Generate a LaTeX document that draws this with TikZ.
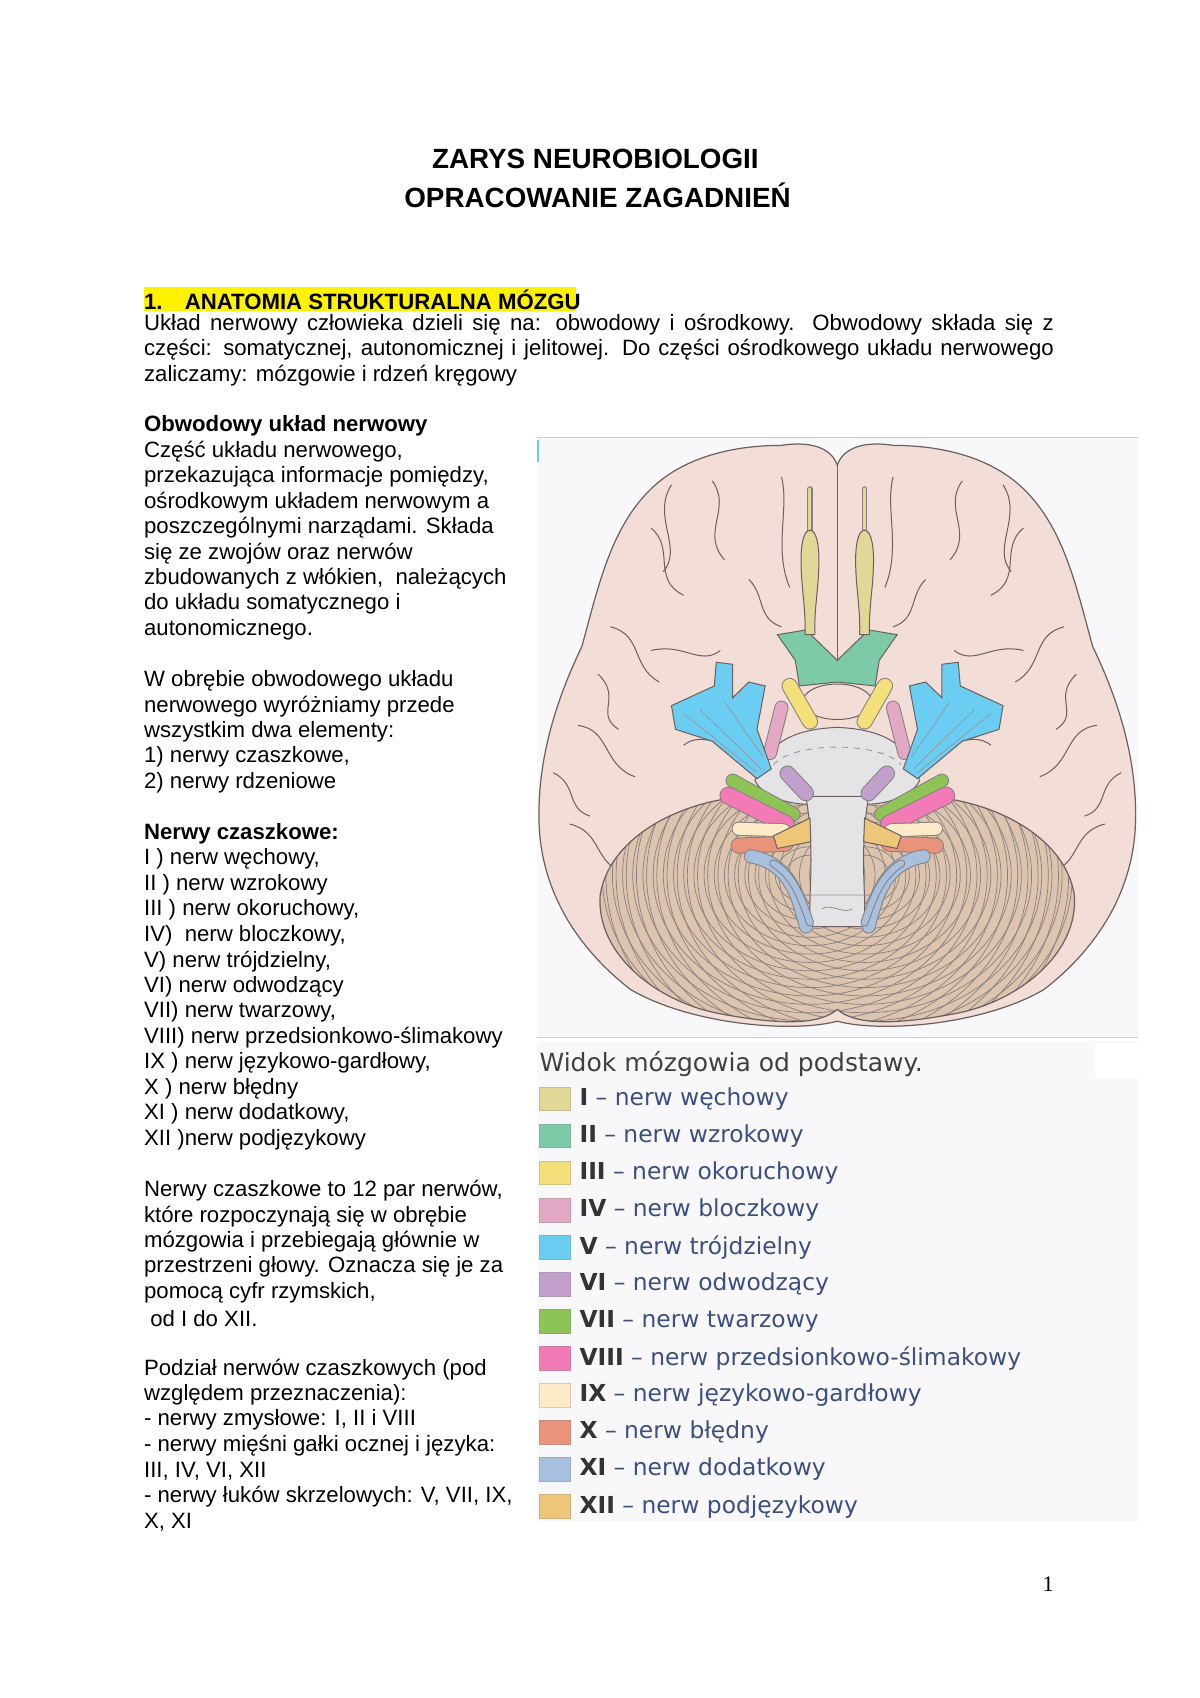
\documentclass[tikz,border=0pt]{standalone}
\usepackage{fontspec}
\setmainfont{Liberation Sans}
\newfontfamily\dejavu{DejaVu Sans}
\newfontfamily\serifnum{Liberation Serif}
\definecolor{cI}{HTML}{E0D896}\definecolor{cII}{HTML}{7CCAA8}\definecolor{cIII}{HTML}{F3E07A}
\definecolor{cIV}{HTML}{E2A8C4}\definecolor{cV}{HTML}{6CCDF2}\definecolor{cVI}{HTML}{C1A0CC}
\definecolor{cVII}{HTML}{8EC356}\definecolor{cVIII}{HTML}{F27BB6}\definecolor{cIX}{HTML}{FDEBC8}
\definecolor{cX}{HTML}{E8937A}\definecolor{cXI}{HTML}{A6C0DE}\definecolor{cXII}{HTML}{EEC67A}
\definecolor{brainpink}{HTML}{F2DDD7}\definecolor{cereb}{HTML}{DCC4AE}\definecolor{stem}{HTML}{E4E4E6}
\definecolor{outl}{HTML}{6A6060}\definecolor{legblue}{HTML}{3D4F80}\definecolor{panel}{HTML}{F8F8FA}
\newcommand\nerve[3]{\draw[line width={#2+1.0pt},line cap=round,draw=outl!80] #3; \draw[line width=#2,line cap=round,draw=#1] #3;}
\newcommand\halfbrain{%
  \draw[outl,line width=0.5pt] (450,130) .. controls (500,200) and (420,260) .. (480,330)
    (300,250) .. controls (360,300) and (300,380) .. (380,420)
    (200,500) .. controls (280,520) and (250,600) .. (320,640)
    (120,750) .. controls (200,760) and (180,850) .. (260,880)
    (620,120) .. controls (640,200) and (600,300) .. (640,400)
    (540,380) .. controls (580,420) and (560,480) .. (620,500)
    (100,1000) .. controls (180,1020) and (160,1100) .. (230,1120)
    (300,560) .. controls (380,540) and (420,600) .. (470,560)
    (350,140) .. controls (300,220) and (380,300) .. (330,360)
    (170,620) .. controls (230,680) and (160,720) .. (220,760)
    (380,800) .. controls (430,760) and (480,820) .. (520,780)
    (60,870) .. controls (120,900) and (90,960) .. (150,980);
}
\newcommand\halfnerves{%
  \nerve{cI}{1.5pt}{(690,150) -- (690,260)}
  \filldraw[fill=cI,draw=outl,line width=0.5pt] (690,255) .. controls (705,255) and (712,290) .. (712,330) .. controls (712,400) and (700,450) .. (702,520) -- (678,520) .. controls (680,450) and (668,400) .. (668,330) .. controls (668,290) and (675,255) .. (690,255) -- cycle;
  \nerve{cIII}{7pt}{(640,650) -- (690,740)}
  \nerve{cIV}{6pt}{(620,705) -- (592,820)}
  \filldraw[fill=cV,draw=outl,line width=0.5pt] (350,700) -- (455,650) -- (460,590) -- (500,595) -- (500,680) -- (540,640) -- (580,650) -- (560,760) -- (595,860) -- (560,885) -- (450,790) -- (360,760) -- cycle;
  \draw[outl!70,line width=0.3pt] (380,720) -- (560,870) (420,710) -- (570,860) (480,690) -- (575,830);
  \nerve{cVI}{7pt}{(635,872) -- (680,922)}
  \nerve{cVII}{6pt}{(500,890) -- (650,975)}
  \nerve{cVIII}{8pt}{(490,928) -- (630,1000)}
  \nerve{cIX}{6pt}{(515,1012) -- (625,1016)}
  \nerve{cX}{7pt}{(515,1055) -- (630,1050)}
  \filldraw[fill=cXII,draw=outl,line width=0.5pt] (600,1030) -- (690,985) -- (692,1045) -- (610,1062) -- cycle;
  \nerve{cXI}{6pt}{(545,1082) .. controls (640,1100) and (660,1180) .. (680,1260)}
  \nerve{cXI}{3pt}{(600,1100) .. controls (650,1130) and (670,1190) .. (690,1250)}
}
\begin{document}
\begin{tikzpicture}[x=0.536pt,y=-0.536pt,font=\fontsize{11}{12.65}\selectfont]
\useasboundingbox[fill=white] (0,0) rectangle (1110,1571.5);
\tikzset{lc/.style={anchor=west,inner sep=0pt}}
% titles
\node[font=\fontsize{13.8}{15}\selectfont\bfseries] (t1) at (551,147) {ZARYS NEUROBIOLOGII};
\node[font=\fontsize{13.8}{15}\selectfont\bfseries] (t2) at (553,181) {OPRACOWANIE ZAGADNIEŃ};
\fill[yellow] (133,266) rectangle (533,288);
\node[lc,font=\fontsize{11}{12.65}\selectfont\bfseries] (h1) at (133,277) {1.\hspace{1em}ANATOMIA STRUKTURALNA MÓZGU};
\node[lc] (p1) at (133,300) {\makebox[451.3pt][s]{Układ nerwowy człowieka dzieli się na: obwodowy i ośrodkowy. Obwodowy składa się z}};
\node[lc] (p2) at (133,324) {\makebox[451.3pt][s]{części: somatycznej, autonomicznej i jelitowej. Do części ośrodkowego układu nerwowego}};
\node[lc] (p3) at (133,348) {zaliczamy: mózgowie i rdzeń kręgowy};
% left column
\node[lc,font=\fontsize{11}{12.65}\selectfont\bfseries] (o0) at (133,394) {Obwodowy układ nerwowy};
\node[lc,font=\fontsize{11}{12.65}\selectfont\bfseries] (n0) at (133,{394+16*23.6}) {Nerwy czaszkowe:};
\foreach \k/\t in {1/{Część układu nerwowego,},2/{przekazująca informacje pomiędzy,},3/{ośrodkowym układem nerwowym a},
 4/{poszczególnymi narządami. Składa},5/{się ze zwojów oraz nerwów},6/{zbudowanych z włókien,\ \ należących},
 7/{do układu somatycznego i},8/{autonomicznego.},10/{W obrębie obwodowego układu},11/{nerwowego wyróżniamy przede},
 12/{wszystkim dwa elementy:},13/{1) nerwy czaszkowe,},14/{2) nerwy rdzeniowe},
 17/{I ) nerw węchowy,},18/{II ) nerw wzrokowy},19/{III ) nerw okoruchowy,},20/{IV)\ \ nerw bloczkowy,},
 21/{V) nerw trójdzielny,},22/{VI) nerw odwodzący},23/{VII) nerw twarzowy,},24/{VIII) nerw przedsionkowo-ślimakowy},
 25/{IX ) nerw językowo-gardłowy,},26/{X ) nerw błędny},27/{XI ) nerw dodatkowy,},28/{XII )nerw podjęzykowy},
 30/{Nerwy czaszkowe to 12 par nerwów,},31/{które rozpoczynają się w obrębie},32/{mózgowia i przebiegają głównie w},
 33/{przestrzeni głowy. Oznacza się je za},34/{pomocą cyfr rzymskich,},35/{\ od I do XII.},
 37/{Podział nerwów czaszkowych (pod},38/{względem przeznaczenia):},39/{- nerwy zmysłowe: I, II i VIII},
 40/{- nerwy mięśni gałki ocznej i języka:},41/{III, IV, VI, XII},42/{- nerwy łuków skrzelowych: V, VII, IX,},43/{X, XI}}
  \node[lc] (l\k) at (133,{394+\k*23.6}) {\t};
% image panel
\fill[panel] (497,405) rectangle (1053,960);
\draw[gray!40,line width=0.6pt] (497,405) -- (1053,405) (497,960) -- (1053,960);
\draw[cyan!60,line width=0.8pt] (498,407) -- (498,428);
\begin{scope}[shift={(489.5,397.6)},xscale=0.377,yscale=0.365]
  \filldraw[fill=brainpink,draw=outl,line width=0.6pt] (757,90) .. controls (740,40) and (680,30) .. (620,40) .. controls (500,40) and (380,70) .. (300,150) .. controls (200,250) and (170,400) .. (130,550) .. controls (60,700) and (20,850) .. (25,1000) .. controls (30,1150) and (100,1300) .. (250,1420) .. controls (400,1510) and (650,1530) .. (757,1500) .. controls (864,1530) and (1114,1510) .. (1264,1420) .. controls (1414,1300) and (1484,1150) .. (1489,1000) .. controls (1494,850) and (1454,700) .. (1384,550) .. controls (1344,400) and (1314,250) .. (1214,150) .. controls (1134,70) and (1014,40) .. (894,40) .. controls (834,30) and (774,40) .. (757,90) -- cycle;
  \draw[outl,line width=0.5pt] (757,90) -- (757,590);
  \halfbrain
  \begin{scope}[shift={(1514,0)},xscale=-1]\halfbrain\end{scope}
  % cerebellum
  \path[save path=\cerebpath] (175,1180) .. controls (200,1020) and (400,930) .. (560,930) -- (954,930) .. controls (1114,930) and (1314,1020) .. (1339,1180) .. controls (1350,1330) and (1200,1450) .. (1050,1480) .. controls (900,1510) and (800,1510) .. (757,1470) .. controls (714,1510) and (614,1510) .. (464,1480) .. controls (314,1450) and (164,1330) .. (175,1180) -- cycle;
  \fill[cereb,use path=\cerebpath];
  \begin{scope}
    \clip[use path=\cerebpath];
    \foreach \r in {60,85,...,760} {\draw[outl!80,line width=0.35pt] (690,1130) circle[x radius=\r, y radius=0.85*\r];
      \draw[outl!80,line width=0.35pt] (824,1130) circle[x radius=\r, y radius=0.85*\r];}
  \end{scope}
  \draw[outl,line width=0.6pt,use path=\cerebpath];
  % brainstem
  \filldraw[fill=stem,draw=outl,line width=0.5pt] (555,890) .. controls (580,800) and (640,760) .. (757,755) .. controls (874,760) and (934,800) .. (959,890) .. controls (940,930) and (880,950) .. (825,950) -- (689,950) .. controls (634,950) and (574,930) .. (555,890) -- cycle;
  \draw[outl!70,dashed,line width=0.4pt] (600,850) .. controls (650,790) and (864,790) .. (914,850);
  \filldraw[fill=stem,draw=outl,line width=0.5pt] (680,930) .. controls (700,1050) and (690,1150) .. (690,1200) -- (690,1260) -- (824,1260) -- (824,1200) .. controls (824,1150) and (814,1050) .. (834,930) -- cycle;
  \draw[outl!70,line width=0.4pt] (690,1180) -- (824,1180) (720,1215) .. controls (740,1200) and (774,1230) .. (794,1215);
  % optic chiasm + pituitary
  \filldraw[fill=brainpink,draw=outl,line width=0.5pt] (757,690) ellipse[x radius=85,y radius=45];
  \filldraw[fill=cII,draw=outl,line width=0.5pt] (610,520) -- (680,508) -- (757,585) -- (834,508) -- (904,520) -- (860,585) -- (850,650) -- (757,640) -- (664,650) -- (654,585) -- cycle;
  \halfnerves
  \begin{scope}[shift={(1514,0)},xscale=-1]\halfnerves\end{scope}
\end{scope}
% legend
\fill[panel] (497,963) rectangle (1053,1408);
\fill[white] (1013,965) rectangle (1053,998);
\node[lc,font=\dejavu\fontsize{12.4}{14}\selectfont,text=black!75] (cap) at (499,985) {Widok mózgowia od podstawy.};
\foreach \k/\c/\n/\t in {0/cI/I/{nerw\ węchowy},1/cII/II/{nerw\ wzrokowy},2/cIII/III/{nerw okoruchowy},3/cIV/IV/{nerw bloczkowy},
 4/cV/V/{nerw trójdzielny},5/cVI/VI/{nerw odwodzący},6/cVII/VII/{nerw twarzowy},7/cVIII/VIII/{nerw przedsionkowo-ślimakowy},
 8/cIX/IX/{nerw językowo-gardłowy},9/cX/X/{nerw błędny},10/cXI/XI/{nerw dodatkowy},11/cXII/XII/{nerw podjęzykowy}} {
  \filldraw[fill=\c,draw=\c!70!gray,line width=0.4pt] (499,{1017+\k*34.3-11}) rectangle (528,{1017+\k*34.3+11});
  \node[lc,font=\dejavu\fontsize{11.6}{13}\selectfont] (g\k) at (536,{1017+\k*34.3}) {\textbf{\color{black!80}\n} {\color{legblue}– \t}};
}
\node[font=\serifnum\fontsize{11}{13}\selectfont] (pg) at (970,1466) {1};
\end{tikzpicture}
\end{document}
